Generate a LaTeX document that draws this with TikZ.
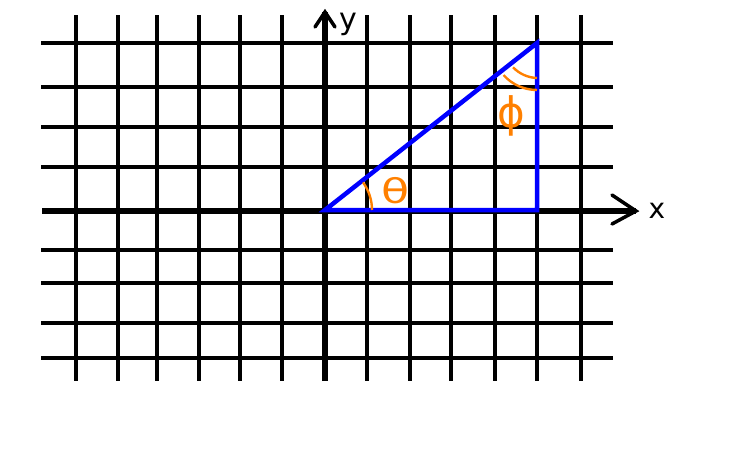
\documentclass[tikz,border=0pt]{standalone}
\usepackage{fontspec}
\setmainfont{DejaVu Sans}
\definecolor{arcorange}{RGB}{255,128,0}
\definecolor{triblue}{RGB}{0,0,255}
\begin{document}
\begin{tikzpicture}[x=1pt,y=-1pt,
  gridline/.style={line width=4pt},
  axisline/.style={line width=6pt},
  arrowarm/.style={line width=3.5pt,line cap=round},
  tri/.style={draw=triblue,line width=4.5pt,line join=miter},
  anglearc/.style={draw=arcorange,line width=2.4pt},
  anglelabel/.style={text=arcorange,inner sep=0pt},
  axislabel/.style={inner sep=0pt}]
\useasboundingbox (0,0) rectangle (732,458);
% grid
\foreach \gx in {76,118,157,199,240,282,367,410,451,495,537,581}
  \draw[gridline] (\gx,15) -- (\gx,381);
\foreach \gy in {43,87,127,167,250,283,323,358}
  \draw[gridline] (41,\gy) -- (613,\gy);
% axes
\coordinate (xs) at (42,211);
\coordinate (xe) at (636,211);
\coordinate (ys) at (325,381);
\coordinate (ye) at (325,12);
\coordinate (xa1) at (612,195);
\coordinate (xa2) at (612,224);
\coordinate (ya1) at (315,27);
\coordinate (ya2) at (335,27);
\draw[axisline] (xs) -- (xe);
\draw[axisline] (ys) -- (ye);
\draw[arrowarm] (xa1) -- (xe) -- (xa2);
\draw[arrowarm] (ya1) -- (ye) -- (ya2);
\node[axislabel,font=\fontsize{28}{28}\selectfont] (xlab) at (657,211) {x};
\node[axislabel,font=\fontsize{30}{30}\selectfont] (ylab) at (348,24) {y};
% triangle
\coordinate (O) at (325,210);
\coordinate (A) at (537,43);
\coordinate (B) at (537,210);
\draw[tri] (O) -- (A) -- (B) -- cycle;
% angle arcs
\draw[anglearc] ([xshift=47pt]O) arc[start angle=0,end angle=36,radius=47pt];
\draw[anglearc] ([yshift=-35pt]A) arc[start angle=268,end angle=224,radius=35pt];
\draw[anglearc] ([yshift=-47pt]A) arc[start angle=270,end angle=222,radius=45pt];
% angle labels
\node[anglelabel,font=\fontsize{34}{34}\selectfont] (theta) at (396,191) {\scalebox{1.35}[1]{θ}};
\node[anglelabel,font=\fontsize{42}{42}\selectfont] (phi) at (511,116) {ϕ};
\end{tikzpicture}
\end{document}
